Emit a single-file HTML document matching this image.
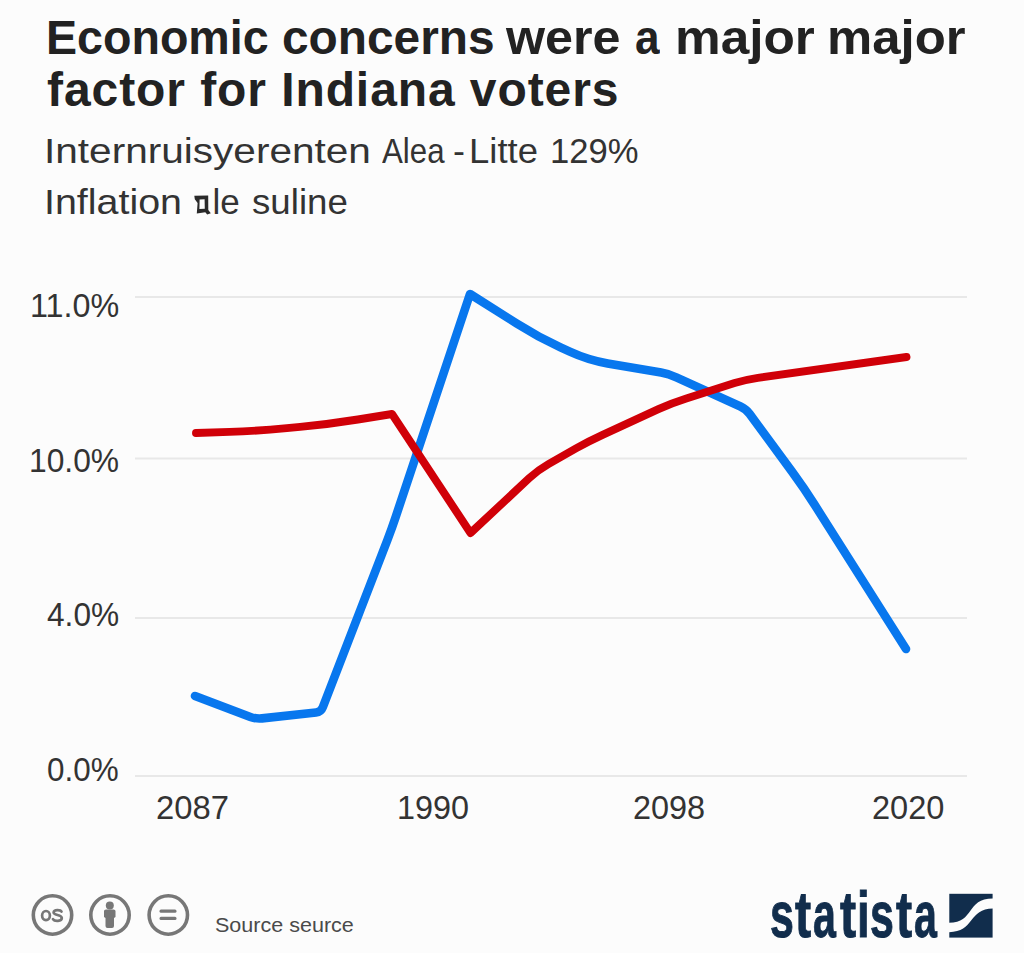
<!DOCTYPE html>
<html>
<head>
<meta charset="utf-8">
<style>
html,body{margin:0;padding:0;}
body{width:1024px;height:953px;background:#fcfcfc;position:relative;overflow:hidden;font-family:"Liberation Sans",sans-serif;}
.t{position:absolute;white-space:nowrap;line-height:1;transform-origin:0 0;}
.title{font-weight:bold;font-size:48px;color:#222;}
.sub{font-size:35px;color:#333;}
.lab{font-size:34px;color:#333;}
.logo{top:881.7px;font-size:65px;font-weight:bold;color:#112d4c;-webkit-text-stroke:1px #112d4c;}
</style>
</head>
<body>
<div class="t title" style="left:46.0px;top:13.6px;transform:scaleX(0.9707);">Economic</div>
<div class="t title" style="left:282.0px;top:13.6px;transform:scaleX(0.9962);">concerns</div>
<div class="t title" style="left:506.3px;top:13.6px;transform:scaleX(1.0463);">were</div>
<div class="t title" style="left:635.2px;top:13.6px;transform:scaleX(0.9200);">a</div>
<div class="t title" style="left:674.6px;top:13.6px;transform:scaleX(1.0693);">major</div>
<div class="t title" style="left:826.9px;top:13.6px;transform:scaleX(1.0598);">major</div>
<div class="t sub" style="left:43.7px;top:133px;transform:scaleX(1.1588);">Internruisyerenten</div>
<div class="t sub" style="left:381.5px;top:133px;transform:scaleX(0.8929);">Alea</div>
<div class="t sub" style="left:453.3px;top:133px;transform:scaleX(1.0250);">-</div>
<div class="t sub" style="left:468.7px;top:133px;transform:scaleX(1.0419);">Litte</div>
<div class="t sub" style="left:549.8px;top:133px;transform:scaleX(0.9894);">129%</div>
<div class="t sub" style="left:44.4px;top:184px;transform:scaleX(1.1256);">Inflation</div>
<div class="t sub" style="left:212.6px;top:184px;transform:scaleX(1.0);">le</div>
<svg width="30" height="30" style="position:absolute;left:185px;top:190px;" viewBox="185 190 30 30"><path fill="#2a2a2a" fill-rule="evenodd" d="M194.3,195.8 L208.2,195.6 L208.3,210 L210.8,213.3 L207.2,214.6 L205.3,212.3 L196.8,213.6 L197.6,203 L194.8,199.2 Z M199.6,199.6 L204.6,199.2 L204.8,208.8 L199.4,209 Z"/></svg>
<div class="t sub" style="left:251.8px;top:184px;transform:scaleX(1.0483);">suline</div>
<div class="t title" id="t2" style="left:47px;top:65.5px;letter-spacing:0.92px;">factor for Indiana voters</div>

<svg width="1024" height="953" style="position:absolute;left:0;top:0;">
  <g stroke="#e8e8e8" stroke-width="2.2">
    <line x1="135" y1="297" x2="967" y2="297"/>
    <line x1="135" y1="458.5" x2="967" y2="458.5"/>
    <line x1="135" y1="618" x2="967" y2="618"/>
    <line x1="135" y1="776" x2="967" y2="776"/>
  </g>
  <path fill="none" stroke="#0877ee" stroke-width="8.6" stroke-linecap="round" stroke-linejoin="round" d="M195,696 L250.4,716.9 Q256,719 262.0,718.4 L316.0,712.5 Q321,712 322.8,707.3 L387.7,539.2 Q392,528 395.8,516.6 L470,294 L516.9,323.6 Q538,337 560.5,347.4 L569.8,351.6 Q588,360 607.7,363.4 L661.1,372.6 Q669,374 676.3,377.3 L740.5,406.5 Q746,409 749.6,413.8 L792.2,471.9 Q804,488 814.7,504.9 L906,649"/>
  <path fill="none" stroke="#d00008" stroke-width="7.9" stroke-linecap="round" stroke-linejoin="round" d="M196,433 L229.6,431.9 Q257,431 286.9,428.1 L300.1,426.9 Q330,424 357.9,419.5 L392,414 L470.5,533 L529.2,478.2 Q538,470 548.4,464.1 L576.0,448.4 Q589,441 602.6,434.8 L658.4,409.2 Q672,403 686.3,398.5 L734.6,383.1 Q746,379.5 757.9,377.8 L906.5,357"/>
</svg>





<div class="t lab" style="left:29.95px;top:287.8px;transform:scaleX(0.95);">11.0%</div>
<div class="t lab" style="left:29.0px;top:443px;transform:scaleX(0.935);">10.0%</div>
<div class="t lab" style="left:47.07px;top:596.8px;transform:scaleX(0.931);">4.0%</div>
<div class="t lab" style="left:47.1px;top:751.8px;transform:scaleX(0.924);">0.0%</div>
<div class="t lab" style="left:156px;top:789.7px;transform:scaleX(0.964);">2087</div>
<div class="t lab" style="left:396.8px;top:789.7px;transform:scaleX(0.952);">1990</div>
<div class="t lab" style="left:632.6px;top:789.7px;transform:scaleX(0.954);">2098</div>
<div class="t lab" style="left:872.3px;top:789.7px;transform:scaleX(0.958);">2020</div>
<div class="t" style="left:215.3px;top:914px;font-size:21px;color:#4a4a4a;transform:scaleX(1.025);">Source seurce</div>
<svg width="1024" height="953" style="position:absolute;left:0;top:0;">
  <g fill="none" stroke="#777" stroke-width="3.6">
    <circle cx="52.5" cy="915" r="19.2"/>
    <circle cx="110" cy="915" r="19.2"/>
    <circle cx="168.3" cy="915" r="19.2"/>
  </g>
  <g fill="none" stroke="#777" stroke-width="2.7" stroke-linecap="round"><ellipse cx="46" cy="915.6" rx="3.9" ry="4.6"/><path d="M61.5,911.6 C60.5,909.8 54,909.3 53.6,912.4 C53.3,915.4 61.8,914.6 61.8,917.9 C61.8,921.6 54.5,921.5 53,919.2"/></g>
  <g fill="#777">
    <circle cx="109.8" cy="905.6" r="4"/>
    <path d="M104 911 Q104 909.5 106 909.5 L113.5 909.5 Q115.5 909.5 115.5 911 L115.5 917 L114 918 L114 926 Q114 928 112 928 L107.5 928 Q105.5 928 105.5 926 L105.5 918 L104 917 Z"/>
    <rect x="159.5" y="909.5" width="17" height="3.2" rx="1.5"/>
    <rect x="159.5" y="916.8" width="17" height="3.2" rx="1.5"/>
  </g>
  <rect x="949.3" y="893.8" width="43.3" height="43.8" fill="#112d4c"/>
  <path d="M949,922.8 C975,922.8 965.5,898.5 993,898.5 L993,908.6 C968.5,908.6 974.5,932.2 949,932.2 Z" fill="#fcfcfc"/>
</svg>
<div class="t logo" style="left:769.7px;transform:scaleX(0.66);">s</div>
<div class="t logo" style="left:794.9px;transform:scaleX(0.745);">t</div>
<div class="t logo" style="left:812.9px;transform:scaleX(0.633);">a</div>
<div class="t logo" style="left:839.7px;transform:scaleX(0.745);">t</div>
<div class="t logo" style="left:857.4px;transform:scaleX(0.7);">i</div>
<div class="t logo" style="left:870.0px;transform:scaleX(0.66);">s</div>
<div class="t logo" style="left:895.5px;transform:scaleX(0.745);">t</div>
<div class="t logo" style="left:913.6px;transform:scaleX(0.633);">a</div>
</body>
</html>
